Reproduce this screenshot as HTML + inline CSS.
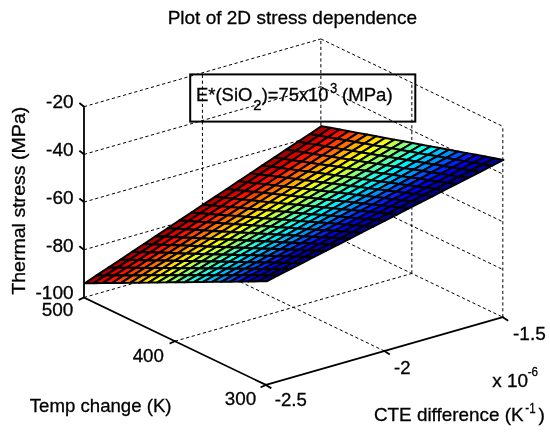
<!DOCTYPE html>
<html><head><meta charset="utf-8"><style>html,body{margin:0;padding:0;background:#fff;width:550px;height:434px;overflow:hidden}</style></head>
<body>
<svg width="550" height="434" viewBox="0 0 550 434" style="position:absolute;left:0;top:0">
<rect width="550" height="434" fill="#fff"/>
<path d="M83.99,297.49 L320.85,229.77 M320.85,229.77 L502.82,317.19 M83.99,249.79 L320.85,182.07 M320.85,182.07 L502.82,269.49 M83.99,202.08 L320.85,134.36 M320.85,134.36 L502.82,221.78 M83.99,154.38 L320.85,86.66 M320.85,86.66 L502.82,174.08 M83.99,106.67 L320.85,38.95 M320.85,38.95 L502.82,126.37 M202.42,263.63 L202.42,72.81 M320.85,229.77 L320.85,38.95 M411.83,273.48 L411.83,82.66 M502.82,317.19 L502.82,126.37 M384.39,351.05 L202.42,263.63 M174.97,341.20 L411.83,273.48" stroke="#000" stroke-width="1.0" stroke-dasharray="3.2 2.6" fill="none"/>
<g stroke="#000" stroke-width="2.0" stroke-linejoin="round">
<path d="M318.81,135.57 L330.65,127.80 L321.55,126.12 L309.71,133.97 Z" fill="#af0000"/>
<path d="M306.96,143.34 L318.81,135.57 L309.71,133.97 L297.86,141.83 Z" fill="#af0000"/>
<path d="M327.90,137.17 L339.75,129.49 L330.65,127.80 L318.81,135.57 Z" fill="#df0000"/>
<path d="M316.06,144.85 L327.90,137.17 L318.81,135.57 L306.96,143.34 Z" fill="#df0000"/>
<path d="M295.12,151.11 L306.96,143.34 L297.86,141.83 L286.02,149.69 Z" fill="#af0000"/>
<path d="M337.00,138.77 L348.85,131.18 L339.75,129.49 L327.90,137.17 Z" fill="#ff1000"/>
<path d="M283.28,158.88 L295.12,151.11 L286.02,149.69 L274.18,157.55 Z" fill="#af0000"/>
<path d="M304.22,152.53 L316.06,144.85 L306.96,143.34 L295.12,151.11 Z" fill="#df0000"/>
<path d="M325.16,146.36 L337.00,138.77 L327.90,137.17 L316.06,144.85 Z" fill="#ff1000"/>
<path d="M346.10,140.37 L357.94,132.87 L348.85,131.18 L337.00,138.77 Z" fill="#ff4000"/>
<path d="M292.37,160.21 L304.22,152.53 L295.12,151.11 L283.28,158.88 Z" fill="#df0000"/>
<path d="M334.26,147.87 L346.10,140.37 L337.00,138.77 L325.16,146.36 Z" fill="#ff4000"/>
<path d="M271.43,166.65 L283.28,158.88 L274.18,157.55 L262.33,165.41 Z" fill="#af0000"/>
<path d="M313.32,153.95 L325.16,146.36 L316.06,144.85 L304.22,152.53 Z" fill="#ff1000"/>
<path d="M355.20,141.96 L367.04,134.55 L357.94,132.87 L346.10,140.37 Z" fill="#ff7000"/>
<path d="M259.59,174.42 L271.43,166.65 L262.33,165.41 L250.49,173.27 Z" fill="#af0000"/>
<path d="M280.53,167.89 L292.37,160.21 L283.28,158.88 L271.43,166.65 Z" fill="#df0000"/>
<path d="M301.47,161.54 L313.32,153.95 L304.22,152.53 L292.37,160.21 Z" fill="#ff1000"/>
<path d="M322.42,155.37 L334.26,147.87 L325.16,146.36 L313.32,153.95 Z" fill="#ff4000"/>
<path d="M343.36,149.38 L355.20,141.96 L346.10,140.37 L334.26,147.87 Z" fill="#ff7000"/>
<path d="M364.30,143.56 L376.14,136.24 L367.04,134.55 L355.20,141.96 Z" fill="#ffaf00"/>
<path d="M247.75,182.19 L259.59,174.42 L250.49,173.27 L238.65,181.12 Z" fill="#af0000"/>
<path d="M268.69,175.57 L280.53,167.89 L271.43,166.65 L259.59,174.42 Z" fill="#df0000"/>
<path d="M289.63,169.13 L301.47,161.54 L292.37,160.21 L280.53,167.89 Z" fill="#ff1000"/>
<path d="M310.57,162.87 L322.42,155.37 L313.32,153.95 L301.47,161.54 Z" fill="#ff4000"/>
<path d="M331.51,156.79 L343.36,149.38 L334.26,147.87 L322.42,155.37 Z" fill="#ff7000"/>
<path d="M352.45,150.88 L364.30,143.56 L355.20,141.96 L343.36,149.38 Z" fill="#ffaf00"/>
<path d="M373.40,145.16 L385.24,137.93 L376.14,136.24 L364.30,143.56 Z" fill="#ffdf00"/>
<path d="M256.85,183.25 L268.69,175.57 L259.59,174.42 L247.75,182.19 Z" fill="#df0000"/>
<path d="M298.73,170.37 L310.57,162.87 L301.47,161.54 L289.63,169.13 Z" fill="#ff4000"/>
<path d="M319.67,164.20 L331.51,156.79 L322.42,155.37 L310.57,162.87 Z" fill="#ff7000"/>
<path d="M361.55,152.39 L373.40,145.16 L364.30,143.56 L352.45,150.88 Z" fill="#ffdf00"/>
<path d="M235.90,189.95 L247.75,182.19 L238.65,181.12 L226.81,188.98 Z" fill="#af0000"/>
<path d="M277.79,176.72 L289.63,169.13 L280.53,167.89 L268.69,175.57 Z" fill="#ff1000"/>
<path d="M340.61,158.21 L352.45,150.88 L343.36,149.38 L331.51,156.79 Z" fill="#ffaf00"/>
<path d="M382.49,146.76 L394.34,139.62 L385.24,137.93 L373.40,145.16 Z" fill="#efff10"/>
<path d="M224.06,197.72 L235.90,189.95 L226.81,188.98 L214.96,196.84 Z" fill="#af0000"/>
<path d="M245.00,190.93 L256.85,183.25 L247.75,182.19 L235.90,189.95 Z" fill="#df0000"/>
<path d="M265.94,184.31 L277.79,176.72 L268.69,175.57 L256.85,183.25 Z" fill="#ff1000"/>
<path d="M286.89,177.87 L298.73,170.37 L289.63,169.13 L277.79,176.72 Z" fill="#ff4000"/>
<path d="M307.83,171.61 L319.67,164.20 L310.57,162.87 L298.73,170.37 Z" fill="#ff7000"/>
<path d="M328.77,165.53 L340.61,158.21 L331.51,156.79 L319.67,164.20 Z" fill="#ffaf00"/>
<path d="M349.71,159.63 L361.55,152.39 L352.45,150.88 L340.61,158.21 Z" fill="#ffdf00"/>
<path d="M370.65,153.90 L382.49,146.76 L373.40,145.16 L361.55,152.39 Z" fill="#efff10"/>
<path d="M391.59,148.36 L403.44,141.30 L394.34,139.62 L382.49,146.76 Z" fill="#bfff40"/>
<path d="M233.16,198.61 L245.00,190.93 L235.90,189.95 L224.06,197.72 Z" fill="#df0000"/>
<path d="M275.04,185.37 L286.89,177.87 L277.79,176.72 L265.94,184.31 Z" fill="#ff4000"/>
<path d="M337.87,166.86 L349.71,159.63 L340.61,158.21 L328.77,165.53 Z" fill="#ffdf00"/>
<path d="M379.75,155.41 L391.59,148.36 L382.49,146.76 L370.65,153.90 Z" fill="#bfff40"/>
<path d="M212.22,205.49 L224.06,197.72 L214.96,196.84 L203.12,204.70 Z" fill="#af0000"/>
<path d="M254.10,191.90 L265.94,184.31 L256.85,183.25 L245.00,190.93 Z" fill="#ff1000"/>
<path d="M295.98,179.02 L307.83,171.61 L298.73,170.37 L286.89,177.87 Z" fill="#ff7000"/>
<path d="M316.93,172.85 L328.77,165.53 L319.67,164.20 L307.83,171.61 Z" fill="#ffaf00"/>
<path d="M358.81,161.04 L370.65,153.90 L361.55,152.39 L349.71,159.63 Z" fill="#efff10"/>
<path d="M400.69,149.96 L412.53,142.99 L403.44,141.30 L391.59,148.36 Z" fill="#8fff70"/>
<path d="M200.38,213.26 L212.22,205.49 L203.12,204.70 L191.28,212.56 Z" fill="#af0000"/>
<path d="M221.32,206.29 L233.16,198.61 L224.06,197.72 L212.22,205.49 Z" fill="#df0000"/>
<path d="M242.26,199.49 L254.10,191.90 L245.00,190.93 L233.16,198.61 Z" fill="#ff1000"/>
<path d="M263.20,192.87 L275.04,185.37 L265.94,184.31 L254.10,191.90 Z" fill="#ff4000"/>
<path d="M284.14,186.43 L295.98,179.02 L286.89,177.87 L275.04,185.37 Z" fill="#ff7000"/>
<path d="M305.08,180.17 L316.93,172.85 L307.83,171.61 L295.98,179.02 Z" fill="#ffaf00"/>
<path d="M326.02,174.09 L337.87,166.86 L328.77,165.53 L316.93,172.85 Z" fill="#ffdf00"/>
<path d="M346.97,168.19 L358.81,161.04 L349.71,159.63 L337.87,166.86 Z" fill="#efff10"/>
<path d="M367.91,162.46 L379.75,155.41 L370.65,153.90 L358.81,161.04 Z" fill="#bfff40"/>
<path d="M388.85,156.92 L400.69,149.96 L391.59,148.36 L379.75,155.41 Z" fill="#8fff70"/>
<path d="M409.79,151.55 L421.63,144.68 L412.53,142.99 L400.69,149.96 Z" fill="#50ffaf"/>
<path d="M188.53,221.03 L200.38,213.26 L191.28,212.56 L179.43,220.42 Z" fill="#af0000"/>
<path d="M209.47,213.96 L221.32,206.29 L212.22,205.49 L200.38,213.26 Z" fill="#df0000"/>
<path d="M230.42,207.08 L242.26,199.49 L233.16,198.61 L221.32,206.29 Z" fill="#ff1000"/>
<path d="M251.36,200.37 L263.20,192.87 L254.10,191.90 L242.26,199.49 Z" fill="#ff4000"/>
<path d="M272.30,193.84 L284.14,186.43 L275.04,185.37 L263.20,192.87 Z" fill="#ff7000"/>
<path d="M293.24,187.49 L305.08,180.17 L295.98,179.02 L284.14,186.43 Z" fill="#ffaf00"/>
<path d="M314.18,181.32 L326.02,174.09 L316.93,172.85 L305.08,180.17 Z" fill="#ffdf00"/>
<path d="M335.12,175.33 L346.97,168.19 L337.87,166.86 L326.02,174.09 Z" fill="#efff10"/>
<path d="M356.06,169.52 L367.91,162.46 L358.81,161.04 L346.97,168.19 Z" fill="#bfff40"/>
<path d="M377.01,163.88 L388.85,156.92 L379.75,155.41 L367.91,162.46 Z" fill="#8fff70"/>
<path d="M397.95,158.43 L409.79,151.55 L400.69,149.96 L388.85,156.92 Z" fill="#50ffaf"/>
<path d="M418.89,153.15 L430.73,146.37 L421.63,144.68 L409.79,151.55 Z" fill="#20ffdf"/>
<path d="M197.63,221.64 L209.47,213.96 L200.38,213.26 L188.53,221.03 Z" fill="#df0000"/>
<path d="M218.57,214.67 L230.42,207.08 L221.32,206.29 L209.47,213.96 Z" fill="#ff1000"/>
<path d="M239.51,207.87 L251.36,200.37 L242.26,199.49 L230.42,207.08 Z" fill="#ff4000"/>
<path d="M260.46,201.25 L272.30,193.84 L263.20,192.87 L251.36,200.37 Z" fill="#ff7000"/>
<path d="M302.34,188.55 L314.18,181.32 L305.08,180.17 L293.24,187.49 Z" fill="#ffdf00"/>
<path d="M344.22,176.57 L356.06,169.52 L346.97,168.19 L335.12,175.33 Z" fill="#bfff40"/>
<path d="M365.16,170.85 L377.01,163.88 L367.91,162.46 L356.06,169.52 Z" fill="#8fff70"/>
<path d="M386.10,165.30 L397.95,158.43 L388.85,156.92 L377.01,163.88 Z" fill="#50ffaf"/>
<path d="M407.05,159.94 L418.89,153.15 L409.79,151.55 L397.95,158.43 Z" fill="#20ffdf"/>
<path d="M176.69,228.80 L188.53,221.03 L179.43,220.42 L167.59,228.27 Z" fill="#af0000"/>
<path d="M281.40,194.81 L293.24,187.49 L284.14,186.43 L272.30,193.84 Z" fill="#ffaf00"/>
<path d="M323.28,182.47 L335.12,175.33 L326.02,174.09 L314.18,181.32 Z" fill="#efff10"/>
<path d="M427.99,154.75 L439.83,148.05 L430.73,146.37 L418.89,153.15 Z" fill="#00efff"/>
<path d="M164.85,236.57 L176.69,228.80 L167.59,228.27 L155.75,236.13 Z" fill="#af0000"/>
<path d="M185.79,229.32 L197.63,221.64 L188.53,221.03 L176.69,228.80 Z" fill="#df0000"/>
<path d="M206.73,222.26 L218.57,214.67 L209.47,213.96 L197.63,221.64 Z" fill="#ff1000"/>
<path d="M227.67,215.37 L239.51,207.87 L230.42,207.08 L218.57,214.67 Z" fill="#ff4000"/>
<path d="M248.61,208.66 L260.46,201.25 L251.36,200.37 L239.51,207.87 Z" fill="#ff7000"/>
<path d="M269.55,202.14 L281.40,194.81 L272.30,193.84 L260.46,201.25 Z" fill="#ffaf00"/>
<path d="M290.50,195.79 L302.34,188.55 L293.24,187.49 L281.40,194.81 Z" fill="#ffdf00"/>
<path d="M311.44,189.62 L323.28,182.47 L314.18,181.32 L302.34,188.55 Z" fill="#efff10"/>
<path d="M332.38,183.62 L344.22,176.57 L335.12,175.33 L323.28,182.47 Z" fill="#bfff40"/>
<path d="M353.32,177.81 L365.16,170.85 L356.06,169.52 L344.22,176.57 Z" fill="#8fff70"/>
<path d="M374.26,172.18 L386.10,165.30 L377.01,163.88 L365.16,170.85 Z" fill="#50ffaf"/>
<path d="M395.20,166.72 L407.05,159.94 L397.95,158.43 L386.10,165.30 Z" fill="#20ffdf"/>
<path d="M416.14,161.45 L427.99,154.75 L418.89,153.15 L407.05,159.94 Z" fill="#00efff"/>
<path d="M437.09,156.35 L448.93,149.74 L439.83,148.05 L427.99,154.75 Z" fill="#00bfff"/>
<path d="M215.83,222.87 L227.67,215.37 L218.57,214.67 L206.73,222.26 Z" fill="#ff4000"/>
<path d="M278.65,203.02 L290.50,195.79 L281.40,194.81 L269.55,202.14 Z" fill="#ffdf00"/>
<path d="M320.54,190.68 L332.38,183.62 L323.28,182.47 L311.44,189.62 Z" fill="#bfff40"/>
<path d="M383.36,173.51 L395.20,166.72 L386.10,165.30 L374.26,172.18 Z" fill="#20ffdf"/>
<path d="M153.00,244.34 L164.85,236.57 L155.75,236.13 L143.90,243.99 Z" fill="#af0000"/>
<path d="M173.94,237.00 L185.79,229.32 L176.69,228.80 L164.85,236.57 Z" fill="#df0000"/>
<path d="M194.89,229.85 L206.73,222.26 L197.63,221.64 L185.79,229.32 Z" fill="#ff1000"/>
<path d="M236.77,216.08 L248.61,208.66 L239.51,207.87 L227.67,215.37 Z" fill="#ff7000"/>
<path d="M257.71,209.46 L269.55,202.14 L260.46,201.25 L248.61,208.66 Z" fill="#ffaf00"/>
<path d="M299.59,196.76 L311.44,189.62 L302.34,188.55 L290.50,195.79 Z" fill="#efff10"/>
<path d="M341.48,184.77 L353.32,177.81 L344.22,176.57 L332.38,183.62 Z" fill="#8fff70"/>
<path d="M362.42,179.05 L374.26,172.18 L365.16,170.85 L353.32,177.81 Z" fill="#50ffaf"/>
<path d="M404.30,168.14 L416.14,161.45 L407.05,159.94 L395.20,166.72 Z" fill="#00efff"/>
<path d="M425.24,162.95 L437.09,156.35 L427.99,154.75 L416.14,161.45 Z" fill="#00bfff"/>
<path d="M446.18,157.95 L458.03,151.43 L448.93,149.74 L437.09,156.35 Z" fill="#008fff"/>
<path d="M141.16,252.11 L153.00,244.34 L143.90,243.99 L132.06,251.85 Z" fill="#af0000"/>
<path d="M162.10,244.68 L173.94,237.00 L164.85,236.57 L153.00,244.34 Z" fill="#df0000"/>
<path d="M183.04,237.44 L194.89,229.85 L185.79,229.32 L173.94,237.00 Z" fill="#ff1000"/>
<path d="M203.98,230.37 L215.83,222.87 L206.73,222.26 L194.89,229.85 Z" fill="#ff4000"/>
<path d="M224.93,223.49 L236.77,216.08 L227.67,215.37 L215.83,222.87 Z" fill="#ff7000"/>
<path d="M245.87,216.78 L257.71,209.46 L248.61,208.66 L236.77,216.08 Z" fill="#ffaf00"/>
<path d="M266.81,210.25 L278.65,203.02 L269.55,202.14 L257.71,209.46 Z" fill="#ffdf00"/>
<path d="M287.75,203.90 L299.59,196.76 L290.50,195.79 L278.65,203.02 Z" fill="#efff10"/>
<path d="M308.69,197.73 L320.54,190.68 L311.44,189.62 L299.59,196.76 Z" fill="#bfff40"/>
<path d="M329.63,191.74 L341.48,184.77 L332.38,183.62 L320.54,190.68 Z" fill="#8fff70"/>
<path d="M350.58,185.93 L362.42,179.05 L353.32,177.81 L341.48,184.77 Z" fill="#50ffaf"/>
<path d="M371.52,180.29 L383.36,173.51 L374.26,172.18 L362.42,179.05 Z" fill="#20ffdf"/>
<path d="M392.46,174.84 L404.30,168.14 L395.20,166.72 L383.36,173.51 Z" fill="#00efff"/>
<path d="M413.40,169.56 L425.24,162.95 L416.14,161.45 L404.30,168.14 Z" fill="#00bfff"/>
<path d="M434.34,164.46 L446.18,157.95 L437.09,156.35 L425.24,162.95 Z" fill="#008fff"/>
<path d="M455.28,159.54 L467.13,153.12 L458.03,151.43 L446.18,157.95 Z" fill="#0050ff"/>
<path d="M150.26,252.36 L162.10,244.68 L153.00,244.34 L141.16,252.11 Z" fill="#df0000"/>
<path d="M171.20,245.03 L183.04,237.44 L173.94,237.00 L162.10,244.68 Z" fill="#ff1000"/>
<path d="M192.14,237.87 L203.98,230.37 L194.89,229.85 L183.04,237.44 Z" fill="#ff4000"/>
<path d="M213.08,230.90 L224.93,223.49 L215.83,222.87 L203.98,230.37 Z" fill="#ff7000"/>
<path d="M234.03,224.10 L245.87,216.78 L236.77,216.08 L224.93,223.49 Z" fill="#ffaf00"/>
<path d="M254.97,217.48 L266.81,210.25 L257.71,209.46 L245.87,216.78 Z" fill="#ffdf00"/>
<path d="M275.91,211.04 L287.75,203.90 L278.65,203.02 L266.81,210.25 Z" fill="#efff10"/>
<path d="M296.85,204.78 L308.69,197.73 L299.59,196.76 L287.75,203.90 Z" fill="#bfff40"/>
<path d="M317.79,198.70 L329.63,191.74 L320.54,190.68 L308.69,197.73 Z" fill="#8fff70"/>
<path d="M338.73,192.80 L350.58,185.93 L341.48,184.77 L329.63,191.74 Z" fill="#50ffaf"/>
<path d="M359.67,187.08 L371.52,180.29 L362.42,179.05 L350.58,185.93 Z" fill="#20ffdf"/>
<path d="M380.62,181.53 L392.46,174.84 L383.36,173.51 L371.52,180.29 Z" fill="#00efff"/>
<path d="M401.56,176.17 L413.40,169.56 L404.30,168.14 L392.46,174.84 Z" fill="#00bfff"/>
<path d="M422.50,170.98 L434.34,164.46 L425.24,162.95 L413.40,169.56 Z" fill="#008fff"/>
<path d="M443.44,165.97 L455.28,159.54 L446.18,157.95 L434.34,164.46 Z" fill="#0050ff"/>
<path d="M129.32,259.87 L141.16,252.11 L132.06,251.85 L120.22,259.71 Z" fill="#af0000"/>
<path d="M464.38,161.14 L476.22,154.80 L467.13,153.12 L455.28,159.54 Z" fill="#0020ff"/>
<path d="M117.47,267.64 L129.32,259.87 L120.22,259.71 L108.38,267.57 Z" fill="#af0000"/>
<path d="M138.42,260.04 L150.26,252.36 L141.16,252.11 L129.32,259.87 Z" fill="#df0000"/>
<path d="M159.36,252.62 L171.20,245.03 L162.10,244.68 L150.26,252.36 Z" fill="#ff1000"/>
<path d="M180.30,245.37 L192.14,237.87 L183.04,237.44 L171.20,245.03 Z" fill="#ff4000"/>
<path d="M201.24,238.31 L213.08,230.90 L203.98,230.37 L192.14,237.87 Z" fill="#ff7000"/>
<path d="M243.12,224.72 L254.97,217.48 L245.87,216.78 L234.03,224.10 Z" fill="#ffdf00"/>
<path d="M264.06,218.19 L275.91,211.04 L266.81,210.25 L254.97,217.48 Z" fill="#efff10"/>
<path d="M285.01,211.84 L296.85,204.78 L287.75,203.90 L275.91,211.04 Z" fill="#bfff40"/>
<path d="M305.95,205.67 L317.79,198.70 L308.69,197.73 L296.85,204.78 Z" fill="#8fff70"/>
<path d="M326.89,199.67 L338.73,192.80 L329.63,191.74 L317.79,198.70 Z" fill="#50ffaf"/>
<path d="M347.83,193.86 L359.67,187.08 L350.58,185.93 L338.73,192.80 Z" fill="#20ffdf"/>
<path d="M389.71,182.77 L401.56,176.17 L392.46,174.84 L380.62,181.53 Z" fill="#00bfff"/>
<path d="M410.66,177.50 L422.50,170.98 L413.40,169.56 L401.56,176.17 Z" fill="#008fff"/>
<path d="M431.60,172.40 L443.44,165.97 L434.34,164.46 L422.50,170.98 Z" fill="#0050ff"/>
<path d="M452.54,167.48 L464.38,161.14 L455.28,159.54 L443.44,165.97 Z" fill="#0020ff"/>
<path d="M473.48,162.74 L485.32,156.49 L476.22,154.80 L464.38,161.14 Z" fill="#0000ef"/>
<path d="M222.18,231.42 L234.03,224.10 L224.93,223.49 L213.08,230.90 Z" fill="#ffaf00"/>
<path d="M368.77,188.23 L380.62,181.53 L371.52,180.29 L359.67,187.08 Z" fill="#00efff"/>
<path d="M105.63,275.41 L117.47,267.64 L108.38,267.57 L96.53,275.42 Z" fill="#af0000"/>
<path d="M126.57,267.72 L138.42,260.04 L129.32,259.87 L117.47,267.64 Z" fill="#df0000"/>
<path d="M147.51,260.21 L159.36,252.62 L150.26,252.36 L138.42,260.04 Z" fill="#ff1000"/>
<path d="M168.46,252.87 L180.30,245.37 L171.20,245.03 L159.36,252.62 Z" fill="#ff4000"/>
<path d="M189.40,245.72 L201.24,238.31 L192.14,237.87 L180.30,245.37 Z" fill="#ff7000"/>
<path d="M210.34,238.74 L222.18,231.42 L213.08,230.90 L201.24,238.31 Z" fill="#ffaf00"/>
<path d="M231.28,231.95 L243.12,224.72 L234.03,224.10 L222.18,231.42 Z" fill="#ffdf00"/>
<path d="M252.22,225.33 L264.06,218.19 L254.97,217.48 L243.12,224.72 Z" fill="#efff10"/>
<path d="M273.16,218.89 L285.01,211.84 L275.91,211.04 L264.06,218.19 Z" fill="#bfff40"/>
<path d="M294.10,212.63 L305.95,205.67 L296.85,204.78 L285.01,211.84 Z" fill="#8fff70"/>
<path d="M315.05,206.55 L326.89,199.67 L317.79,198.70 L305.95,205.67 Z" fill="#50ffaf"/>
<path d="M335.99,200.65 L347.83,193.86 L338.73,192.80 L326.89,199.67 Z" fill="#20ffdf"/>
<path d="M356.93,194.92 L368.77,188.23 L359.67,187.08 L347.83,193.86 Z" fill="#00efff"/>
<path d="M377.87,189.38 L389.71,182.77 L380.62,181.53 L368.77,188.23 Z" fill="#00bfff"/>
<path d="M398.81,184.01 L410.66,177.50 L401.56,176.17 L389.71,182.77 Z" fill="#008fff"/>
<path d="M419.75,178.83 L431.60,172.40 L422.50,170.98 L410.66,177.50 Z" fill="#0050ff"/>
<path d="M440.70,173.82 L452.54,167.48 L443.44,165.97 L431.60,172.40 Z" fill="#0020ff"/>
<path d="M461.64,168.99 L473.48,162.74 L464.38,161.14 L452.54,167.48 Z" fill="#0000ef"/>
<path d="M482.58,164.34 L494.42,158.18 L485.32,156.49 L473.48,162.74 Z" fill="#0000bf"/>
<path d="M114.73,275.40 L126.57,267.72 L117.47,267.64 L105.63,275.41 Z" fill="#df0000"/>
<path d="M156.61,260.38 L168.46,252.87 L159.36,252.62 L147.51,260.21 Z" fill="#ff4000"/>
<path d="M261.32,225.94 L273.16,218.89 L264.06,218.19 L252.22,225.33 Z" fill="#bfff40"/>
<path d="M324.14,207.43 L335.99,200.65 L326.89,199.67 L315.05,206.55 Z" fill="#20ffdf"/>
<path d="M428.85,180.16 L440.70,173.82 L431.60,172.40 L419.75,178.83 Z" fill="#0020ff"/>
<path d="M470.74,170.50 L482.58,164.34 L473.48,162.74 L461.64,168.99 Z" fill="#0000bf"/>
<path d="M93.79,283.18 L105.63,275.41 L96.53,275.42 L84.69,283.28 Z" fill="#af0000"/>
<path d="M135.67,267.80 L147.51,260.21 L138.42,260.04 L126.57,267.72 Z" fill="#ff1000"/>
<path d="M177.55,253.13 L189.40,245.72 L180.30,245.37 L168.46,252.87 Z" fill="#ff7000"/>
<path d="M198.50,246.07 L210.34,238.74 L201.24,238.31 L189.40,245.72 Z" fill="#ffaf00"/>
<path d="M219.44,239.18 L231.28,231.95 L222.18,231.42 L210.34,238.74 Z" fill="#ffdf00"/>
<path d="M240.38,232.47 L252.22,225.33 L243.12,224.72 L231.28,231.95 Z" fill="#efff10"/>
<path d="M282.26,219.59 L294.10,212.63 L285.01,211.84 L273.16,218.89 Z" fill="#8fff70"/>
<path d="M303.20,213.42 L315.05,206.55 L305.95,205.67 L294.10,212.63 Z" fill="#50ffaf"/>
<path d="M345.09,201.62 L356.93,194.92 L347.83,193.86 L335.99,200.65 Z" fill="#00efff"/>
<path d="M366.03,195.98 L377.87,189.38 L368.77,188.23 L356.93,194.92 Z" fill="#00bfff"/>
<path d="M386.97,190.53 L398.81,184.01 L389.71,182.77 L377.87,189.38 Z" fill="#008fff"/>
<path d="M407.91,185.25 L419.75,178.83 L410.66,177.50 L398.81,184.01 Z" fill="#0050ff"/>
<path d="M449.79,175.24 L461.64,168.99 L452.54,167.48 L440.70,173.82 Z" fill="#0000ef"/>
<path d="M491.68,165.94 L503.52,159.87 L494.42,158.18 L482.58,164.34 Z" fill="#00008f"/>
<path d="M102.89,283.08 L114.73,275.40 L105.63,275.41 L93.79,283.18 Z" fill="#df0000"/>
<path d="M123.83,275.39 L135.67,267.80 L126.57,267.72 L114.73,275.40 Z" fill="#ff1000"/>
<path d="M144.77,267.88 L156.61,260.38 L147.51,260.21 L135.67,267.80 Z" fill="#ff4000"/>
<path d="M165.71,260.54 L177.55,253.13 L168.46,252.87 L156.61,260.38 Z" fill="#ff7000"/>
<path d="M207.59,246.41 L219.44,239.18 L210.34,238.74 L198.50,246.07 Z" fill="#ffdf00"/>
<path d="M249.48,233.00 L261.32,225.94 L252.22,225.33 L240.38,232.47 Z" fill="#bfff40"/>
<path d="M270.42,226.56 L282.26,219.59 L273.16,218.89 L261.32,225.94 Z" fill="#8fff70"/>
<path d="M291.36,220.30 L303.20,213.42 L294.10,212.63 L282.26,219.59 Z" fill="#50ffaf"/>
<path d="M312.30,214.22 L324.14,207.43 L315.05,206.55 L303.20,213.42 Z" fill="#20ffdf"/>
<path d="M333.24,208.31 L345.09,201.62 L335.99,200.65 L324.14,207.43 Z" fill="#00efff"/>
<path d="M375.13,197.05 L386.97,190.53 L377.87,189.38 L366.03,195.98 Z" fill="#008fff"/>
<path d="M417.01,186.49 L428.85,180.16 L419.75,178.83 L407.91,185.25 Z" fill="#0020ff"/>
<path d="M437.95,181.49 L449.79,175.24 L440.70,173.82 L428.85,180.16 Z" fill="#0000ef"/>
<path d="M458.89,176.66 L470.74,170.50 L461.64,168.99 L449.79,175.24 Z" fill="#0000bf"/>
<path d="M479.83,172.01 L491.68,165.94 L482.58,164.34 L470.74,170.50 Z" fill="#00008f"/>
<path d="M186.65,253.39 L198.50,246.07 L189.40,245.72 L177.55,253.13 Z" fill="#ffaf00"/>
<path d="M228.54,239.61 L240.38,232.47 L231.28,231.95 L219.44,239.18 Z" fill="#efff10"/>
<path d="M354.19,202.59 L366.03,195.98 L356.93,194.92 L345.09,201.62 Z" fill="#00bfff"/>
<path d="M396.07,191.68 L407.91,185.25 L398.81,184.01 L386.97,190.53 Z" fill="#0050ff"/>
<path d="M132.93,275.38 L144.77,267.88 L135.67,267.80 L123.83,275.39 Z" fill="#ff4000"/>
<path d="M195.75,253.64 L207.59,246.41 L198.50,246.07 L186.65,253.39 Z" fill="#ffdf00"/>
<path d="M237.63,240.05 L249.48,233.00 L240.38,232.47 L228.54,239.61 Z" fill="#bfff40"/>
<path d="M279.52,227.17 L291.36,220.30 L282.26,219.59 L270.42,226.56 Z" fill="#50ffaf"/>
<path d="M300.46,221.00 L312.30,214.22 L303.20,213.42 L291.36,220.30 Z" fill="#20ffdf"/>
<path d="M342.34,209.20 L354.19,202.59 L345.09,201.62 L333.24,208.31 Z" fill="#00bfff"/>
<path d="M384.22,198.11 L396.07,191.68 L386.97,190.53 L375.13,197.05 Z" fill="#0050ff"/>
<path d="M447.05,182.82 L458.89,176.66 L449.79,175.24 L437.95,181.49 Z" fill="#0000bf"/>
<path d="M111.99,282.98 L123.83,275.39 L114.73,275.40 L102.89,283.08 Z" fill="#ff1000"/>
<path d="M153.87,267.95 L165.71,260.54 L156.61,260.38 L144.77,267.88 Z" fill="#ff7000"/>
<path d="M174.81,260.71 L186.65,253.39 L177.55,253.13 L165.71,260.54 Z" fill="#ffaf00"/>
<path d="M216.69,246.76 L228.54,239.61 L219.44,239.18 L207.59,246.41 Z" fill="#efff10"/>
<path d="M258.58,233.52 L270.42,226.56 L261.32,225.94 L249.48,233.00 Z" fill="#8fff70"/>
<path d="M321.40,215.01 L333.24,208.31 L324.14,207.43 L312.30,214.22 Z" fill="#00efff"/>
<path d="M363.28,203.56 L375.13,197.05 L366.03,195.98 L354.19,202.59 Z" fill="#008fff"/>
<path d="M405.17,192.83 L417.01,186.49 L407.91,185.25 L396.07,191.68 Z" fill="#0020ff"/>
<path d="M426.11,187.73 L437.95,181.49 L428.85,180.16 L417.01,186.49 Z" fill="#0000ef"/>
<path d="M467.99,178.08 L479.83,172.01 L470.74,170.50 L458.89,176.66 Z" fill="#00008f"/>
<path d="M121.08,282.88 L132.93,275.38 L123.83,275.39 L111.99,282.98 Z" fill="#ff4000"/>
<path d="M142.03,275.36 L153.87,267.95 L144.77,267.88 L132.93,275.38 Z" fill="#ff7000"/>
<path d="M183.91,260.88 L195.75,253.64 L186.65,253.39 L174.81,260.71 Z" fill="#ffdf00"/>
<path d="M204.85,253.90 L216.69,246.76 L207.59,246.41 L195.75,253.64 Z" fill="#efff10"/>
<path d="M225.79,247.10 L237.63,240.05 L228.54,239.61 L216.69,246.76 Z" fill="#bfff40"/>
<path d="M246.73,240.49 L258.58,233.52 L249.48,233.00 L237.63,240.05 Z" fill="#8fff70"/>
<path d="M267.67,234.05 L279.52,227.17 L270.42,226.56 L258.58,233.52 Z" fill="#50ffaf"/>
<path d="M288.62,227.79 L300.46,221.00 L291.36,220.30 L279.52,227.17 Z" fill="#20ffdf"/>
<path d="M309.56,221.70 L321.40,215.01 L312.30,214.22 L300.46,221.00 Z" fill="#00efff"/>
<path d="M330.50,215.80 L342.34,209.20 L333.24,208.31 L321.40,215.01 Z" fill="#00bfff"/>
<path d="M351.44,210.08 L363.28,203.56 L354.19,202.59 L342.34,209.20 Z" fill="#008fff"/>
<path d="M372.38,204.53 L384.22,198.11 L375.13,197.05 L363.28,203.56 Z" fill="#0050ff"/>
<path d="M393.32,199.17 L405.17,192.83 L396.07,191.68 L384.22,198.11 Z" fill="#0020ff"/>
<path d="M435.21,188.97 L447.05,182.82 L437.95,181.49 L426.11,187.73 Z" fill="#0000bf"/>
<path d="M456.15,184.14 L467.99,178.08 L458.89,176.66 L447.05,182.82 Z" fill="#00008f"/>
<path d="M162.97,268.03 L174.81,260.71 L165.71,260.54 L153.87,267.95 Z" fill="#ffaf00"/>
<path d="M414.26,193.98 L426.11,187.73 L417.01,186.49 L405.17,192.83 Z" fill="#0000ef"/>
<path d="M130.18,282.78 L142.03,275.36 L132.93,275.38 L121.08,282.88 Z" fill="#ff7000"/>
<path d="M151.12,275.35 L162.97,268.03 L153.87,267.95 L142.03,275.36 Z" fill="#ffaf00"/>
<path d="M172.07,268.11 L183.91,260.88 L174.81,260.71 L162.97,268.03 Z" fill="#ffdf00"/>
<path d="M193.01,261.04 L204.85,253.90 L195.75,253.64 L183.91,260.88 Z" fill="#efff10"/>
<path d="M213.95,254.16 L225.79,247.10 L216.69,246.76 L204.85,253.90 Z" fill="#bfff40"/>
<path d="M234.89,247.45 L246.73,240.49 L237.63,240.05 L225.79,247.10 Z" fill="#8fff70"/>
<path d="M255.83,240.92 L267.67,234.05 L258.58,233.52 L246.73,240.49 Z" fill="#50ffaf"/>
<path d="M276.77,234.57 L288.62,227.79 L279.52,227.17 L267.67,234.05 Z" fill="#20ffdf"/>
<path d="M297.71,228.40 L309.56,221.70 L300.46,221.00 L288.62,227.79 Z" fill="#00efff"/>
<path d="M318.66,222.41 L330.50,215.80 L321.40,215.01 L309.56,221.70 Z" fill="#00bfff"/>
<path d="M339.60,216.60 L351.44,210.08 L342.34,209.20 L330.50,215.80 Z" fill="#008fff"/>
<path d="M360.54,210.96 L372.38,204.53 L363.28,203.56 L351.44,210.08 Z" fill="#0050ff"/>
<path d="M381.48,205.51 L393.32,199.17 L384.22,198.11 L372.38,204.53 Z" fill="#0020ff"/>
<path d="M402.42,200.23 L414.26,193.98 L405.17,192.83 L393.32,199.17 Z" fill="#0000ef"/>
<path d="M423.36,195.13 L435.21,188.97 L426.11,187.73 L414.26,193.98 Z" fill="#0000bf"/>
<path d="M444.31,190.21 L456.15,184.14 L447.05,182.82 L435.21,188.97 Z" fill="#00008f"/>
<path d="M160.22,275.34 L172.07,268.11 L162.97,268.03 L151.12,275.35 Z" fill="#ffdf00"/>
<path d="M202.11,261.21 L213.95,254.16 L204.85,253.90 L193.01,261.04 Z" fill="#bfff40"/>
<path d="M369.64,211.84 L381.48,205.51 L372.38,204.53 L360.54,210.96 Z" fill="#0020ff"/>
<path d="M411.52,201.29 L423.36,195.13 L414.26,193.98 L402.42,200.23 Z" fill="#0000bf"/>
<path d="M139.28,282.67 L151.12,275.35 L142.03,275.36 L130.18,282.78 Z" fill="#ffaf00"/>
<path d="M181.16,268.19 L193.01,261.04 L183.91,260.88 L172.07,268.11 Z" fill="#efff10"/>
<path d="M223.05,254.41 L234.89,247.45 L225.79,247.10 L213.95,254.16 Z" fill="#8fff70"/>
<path d="M243.99,247.80 L255.83,240.92 L246.73,240.49 L234.89,247.45 Z" fill="#50ffaf"/>
<path d="M264.93,241.36 L276.77,234.57 L267.67,234.05 L255.83,240.92 Z" fill="#20ffdf"/>
<path d="M285.87,235.10 L297.71,228.40 L288.62,227.79 L276.77,234.57 Z" fill="#00efff"/>
<path d="M306.81,229.01 L318.66,222.41 L309.56,221.70 L297.71,228.40 Z" fill="#00bfff"/>
<path d="M327.75,223.11 L339.60,216.60 L330.50,215.80 L318.66,222.41 Z" fill="#008fff"/>
<path d="M348.70,217.39 L360.54,210.96 L351.44,210.08 L339.60,216.60 Z" fill="#0050ff"/>
<path d="M390.58,206.48 L402.42,200.23 L393.32,199.17 L381.48,205.51 Z" fill="#0000ef"/>
<path d="M432.46,196.28 L444.31,190.21 L435.21,188.97 L423.36,195.13 Z" fill="#00008f"/>
<path d="M148.38,282.57 L160.22,275.34 L151.12,275.35 L139.28,282.67 Z" fill="#ffdf00"/>
<path d="M169.32,275.33 L181.16,268.19 L172.07,268.11 L160.22,275.34 Z" fill="#efff10"/>
<path d="M190.26,268.26 L202.11,261.21 L193.01,261.04 L181.16,268.19 Z" fill="#bfff40"/>
<path d="M211.20,261.38 L223.05,254.41 L213.95,254.16 L202.11,261.21 Z" fill="#8fff70"/>
<path d="M232.15,254.67 L243.99,247.80 L234.89,247.45 L223.05,254.41 Z" fill="#50ffaf"/>
<path d="M253.09,248.14 L264.93,241.36 L255.83,240.92 L243.99,247.80 Z" fill="#20ffdf"/>
<path d="M315.91,229.63 L327.75,223.11 L318.66,222.41 L306.81,229.01 Z" fill="#008fff"/>
<path d="M336.85,223.82 L348.70,217.39 L339.60,216.60 L327.75,223.11 Z" fill="#0050ff"/>
<path d="M357.79,218.18 L369.64,211.84 L360.54,210.96 L348.70,217.39 Z" fill="#0020ff"/>
<path d="M378.74,212.73 L390.58,206.48 L381.48,205.51 L369.64,211.84 Z" fill="#0000ef"/>
<path d="M399.68,207.45 L411.52,201.29 L402.42,200.23 L390.58,206.48 Z" fill="#0000bf"/>
<path d="M420.62,202.35 L432.46,196.28 L423.36,195.13 L411.52,201.29 Z" fill="#00008f"/>
<path d="M274.03,241.79 L285.87,235.10 L276.77,234.57 L264.93,241.36 Z" fill="#00efff"/>
<path d="M294.97,235.62 L306.81,229.01 L297.71,228.40 L285.87,235.10 Z" fill="#00bfff"/>
<path d="M178.42,275.32 L190.26,268.26 L181.16,268.19 L169.32,275.33 Z" fill="#bfff40"/>
<path d="M241.24,254.93 L253.09,248.14 L243.99,247.80 L232.15,254.67 Z" fill="#20ffdf"/>
<path d="M325.01,230.24 L336.85,223.82 L327.75,223.11 L315.91,229.63 Z" fill="#0050ff"/>
<path d="M387.83,213.61 L399.68,207.45 L390.58,206.48 L378.74,212.73 Z" fill="#0000bf"/>
<path d="M157.48,282.47 L169.32,275.33 L160.22,275.34 L148.38,282.57 Z" fill="#efff10"/>
<path d="M199.36,268.34 L211.20,261.38 L202.11,261.21 L190.26,268.26 Z" fill="#8fff70"/>
<path d="M220.30,261.54 L232.15,254.67 L223.05,254.41 L211.20,261.38 Z" fill="#50ffaf"/>
<path d="M262.19,248.49 L274.03,241.79 L264.93,241.36 L253.09,248.14 Z" fill="#00efff"/>
<path d="M283.13,242.23 L294.97,235.62 L285.87,235.10 L274.03,241.79 Z" fill="#00bfff"/>
<path d="M304.07,236.15 L315.91,229.63 L306.81,229.01 L294.97,235.62 Z" fill="#008fff"/>
<path d="M345.95,224.52 L357.79,218.18 L348.70,217.39 L336.85,223.82 Z" fill="#0020ff"/>
<path d="M366.89,218.98 L378.74,212.73 L369.64,211.84 L357.79,218.18 Z" fill="#0000ef"/>
<path d="M408.78,208.42 L420.62,202.35 L411.52,201.29 L399.68,207.45 Z" fill="#00008f"/>
<path d="M166.58,282.37 L178.42,275.32 L169.32,275.33 L157.48,282.47 Z" fill="#bfff40"/>
<path d="M187.52,275.30 L199.36,268.34 L190.26,268.26 L178.42,275.32 Z" fill="#8fff70"/>
<path d="M208.46,268.42 L220.30,261.54 L211.20,261.38 L199.36,268.34 Z" fill="#50ffaf"/>
<path d="M229.40,261.71 L241.24,254.93 L232.15,254.67 L220.30,261.54 Z" fill="#20ffdf"/>
<path d="M250.34,255.18 L262.19,248.49 L253.09,248.14 L241.24,254.93 Z" fill="#00efff"/>
<path d="M271.28,248.83 L283.13,242.23 L274.03,241.79 L262.19,248.49 Z" fill="#00bfff"/>
<path d="M292.23,242.66 L304.07,236.15 L294.97,235.62 L283.13,242.23 Z" fill="#008fff"/>
<path d="M313.17,236.67 L325.01,230.24 L315.91,229.63 L304.07,236.15 Z" fill="#0050ff"/>
<path d="M334.11,230.86 L345.95,224.52 L336.85,223.82 L325.01,230.24 Z" fill="#0020ff"/>
<path d="M355.05,225.22 L366.89,218.98 L357.79,218.18 L345.95,224.52 Z" fill="#0000ef"/>
<path d="M375.99,219.77 L387.83,213.61 L378.74,212.73 L366.89,218.98 Z" fill="#0000bf"/>
<path d="M396.93,214.49 L408.78,208.42 L399.68,207.45 L387.83,213.61 Z" fill="#00008f"/>
<path d="M175.67,282.27 L187.52,275.30 L178.42,275.32 L166.58,282.37 Z" fill="#8fff70"/>
<path d="M196.62,275.29 L208.46,268.42 L199.36,268.34 L187.52,275.30 Z" fill="#50ffaf"/>
<path d="M217.56,268.50 L229.40,261.71 L220.30,261.54 L208.46,268.42 Z" fill="#20ffdf"/>
<path d="M238.50,261.88 L250.34,255.18 L241.24,254.93 L229.40,261.71 Z" fill="#00efff"/>
<path d="M259.44,255.44 L271.28,248.83 L262.19,248.49 L250.34,255.18 Z" fill="#00bfff"/>
<path d="M280.38,249.18 L292.23,242.66 L283.13,242.23 L271.28,248.83 Z" fill="#008fff"/>
<path d="M301.32,243.10 L313.17,236.67 L304.07,236.15 L292.23,242.66 Z" fill="#0050ff"/>
<path d="M322.27,237.20 L334.11,230.86 L325.01,230.24 L313.17,236.67 Z" fill="#0020ff"/>
<path d="M343.21,231.47 L355.05,225.22 L345.95,224.52 L334.11,230.86 Z" fill="#0000ef"/>
<path d="M364.15,225.93 L375.99,219.77 L366.89,218.98 L355.05,225.22 Z" fill="#0000bf"/>
<path d="M385.09,220.56 L396.93,214.49 L387.83,213.61 L375.99,219.77 Z" fill="#00008f"/>
<path d="M184.77,282.17 L196.62,275.29 L187.52,275.30 L175.67,282.27 Z" fill="#50ffaf"/>
<path d="M205.71,275.28 L217.56,268.50 L208.46,268.42 L196.62,275.29 Z" fill="#20ffdf"/>
<path d="M268.54,255.70 L280.38,249.18 L271.28,248.83 L259.44,255.44 Z" fill="#008fff"/>
<path d="M289.48,249.52 L301.32,243.10 L292.23,242.66 L280.38,249.18 Z" fill="#0050ff"/>
<path d="M352.31,232.09 L364.15,225.93 L355.05,225.22 L343.21,231.47 Z" fill="#0000bf"/>
<path d="M373.25,226.63 L385.09,220.56 L375.99,219.77 L364.15,225.93 Z" fill="#00008f"/>
<path d="M226.66,268.57 L238.50,261.88 L229.40,261.71 L217.56,268.50 Z" fill="#00efff"/>
<path d="M247.60,262.05 L259.44,255.44 L250.34,255.18 L238.50,261.88 Z" fill="#00bfff"/>
<path d="M310.42,243.53 L322.27,237.20 L313.17,236.67 L301.32,243.10 Z" fill="#0020ff"/>
<path d="M331.36,237.72 L343.21,231.47 L334.11,230.86 L322.27,237.20 Z" fill="#0000ef"/>
<path d="M193.87,282.07 L205.71,275.28 L196.62,275.29 L184.77,282.17 Z" fill="#20ffdf"/>
<path d="M235.75,268.65 L247.60,262.05 L238.50,261.88 L226.66,268.57 Z" fill="#00bfff"/>
<path d="M256.70,262.21 L268.54,255.70 L259.44,255.44 L247.60,262.05 Z" fill="#008fff"/>
<path d="M277.64,255.95 L289.48,249.52 L280.38,249.18 L268.54,255.70 Z" fill="#0050ff"/>
<path d="M298.58,249.87 L310.42,243.53 L301.32,243.10 L289.48,249.52 Z" fill="#0020ff"/>
<path d="M319.52,243.97 L331.36,237.72 L322.27,237.20 L310.42,243.53 Z" fill="#0000ef"/>
<path d="M361.40,232.70 L373.25,226.63 L364.15,225.93 L352.31,232.09 Z" fill="#00008f"/>
<path d="M214.81,275.27 L226.66,268.57 L217.56,268.50 L205.71,275.28 Z" fill="#00efff"/>
<path d="M340.46,238.24 L352.31,232.09 L343.21,231.47 L331.36,237.72 Z" fill="#0000bf"/>
<path d="M202.97,281.96 L214.81,275.27 L205.71,275.28 L193.87,282.07 Z" fill="#00efff"/>
<path d="M223.91,275.26 L235.75,268.65 L226.66,268.57 L214.81,275.27 Z" fill="#00bfff"/>
<path d="M244.85,268.73 L256.70,262.21 L247.60,262.05 L235.75,268.65 Z" fill="#008fff"/>
<path d="M265.79,262.38 L277.64,255.95 L268.54,255.70 L256.70,262.21 Z" fill="#0050ff"/>
<path d="M286.74,256.21 L298.58,249.87 L289.48,249.52 L277.64,255.95 Z" fill="#0020ff"/>
<path d="M307.68,250.22 L319.52,243.97 L310.42,243.53 L298.58,249.87 Z" fill="#0000ef"/>
<path d="M328.62,244.40 L340.46,238.24 L331.36,237.72 L319.52,243.97 Z" fill="#0000bf"/>
<path d="M349.56,238.77 L361.40,232.70 L352.31,232.09 L340.46,238.24 Z" fill="#00008f"/>
<path d="M253.95,268.81 L265.79,262.38 L256.70,262.21 L244.85,268.73 Z" fill="#0050ff"/>
<path d="M295.83,256.46 L307.68,250.22 L298.58,249.87 L286.74,256.21 Z" fill="#0000ef"/>
<path d="M212.07,281.86 L223.91,275.26 L214.81,275.27 L202.97,281.96 Z" fill="#00bfff"/>
<path d="M233.01,275.25 L244.85,268.73 L235.75,268.65 L223.91,275.26 Z" fill="#008fff"/>
<path d="M274.89,262.55 L286.74,256.21 L277.64,255.95 L265.79,262.38 Z" fill="#0020ff"/>
<path d="M316.78,250.56 L328.62,244.40 L319.52,243.97 L307.68,250.22 Z" fill="#0000bf"/>
<path d="M337.72,244.84 L349.56,238.77 L340.46,238.24 L328.62,244.40 Z" fill="#00008f"/>
<path d="M221.17,281.76 L233.01,275.25 L223.91,275.26 L212.07,281.86 Z" fill="#008fff"/>
<path d="M242.11,275.23 L253.95,268.81 L244.85,268.73 L233.01,275.25 Z" fill="#0050ff"/>
<path d="M263.05,268.88 L274.89,262.55 L265.79,262.38 L253.95,268.81 Z" fill="#0020ff"/>
<path d="M283.99,262.71 L295.83,256.46 L286.74,256.21 L274.89,262.55 Z" fill="#0000ef"/>
<path d="M304.93,256.72 L316.78,250.56 L307.68,250.22 L295.83,256.46 Z" fill="#0000bf"/>
<path d="M325.87,250.91 L337.72,244.84 L328.62,244.40 L316.78,250.56 Z" fill="#00008f"/>
<path d="M230.27,281.66 L242.11,275.23 L233.01,275.25 L221.17,281.76 Z" fill="#0050ff"/>
<path d="M251.21,275.22 L263.05,268.88 L253.95,268.81 L242.11,275.23 Z" fill="#0020ff"/>
<path d="M272.15,268.96 L283.99,262.71 L274.89,262.55 L263.05,268.88 Z" fill="#0000ef"/>
<path d="M293.09,262.88 L304.93,256.72 L295.83,256.46 L283.99,262.71 Z" fill="#0000bf"/>
<path d="M314.03,256.98 L325.87,250.91 L316.78,250.56 L304.93,256.72 Z" fill="#00008f"/>
<path d="M260.31,275.21 L272.15,268.96 L263.05,268.88 L251.21,275.22 Z" fill="#0000ef"/>
<path d="M281.25,269.04 L293.09,262.88 L283.99,262.71 L272.15,268.96 Z" fill="#0000bf"/>
<path d="M239.36,281.56 L251.21,275.22 L242.11,275.23 L230.27,281.66 Z" fill="#0020ff"/>
<path d="M302.19,263.05 L314.03,256.98 L304.93,256.72 L293.09,262.88 Z" fill="#00008f"/>
<path d="M248.46,281.46 L260.31,275.21 L251.21,275.22 L239.36,281.56 Z" fill="#0000ef"/>
<path d="M269.40,275.20 L281.25,269.04 L272.15,268.96 L260.31,275.21 Z" fill="#0000bf"/>
<path d="M290.35,269.12 L302.19,263.05 L293.09,262.88 L281.25,269.04 Z" fill="#00008f"/>
<path d="M257.56,281.36 L269.40,275.20 L260.31,275.21 L248.46,281.46 Z" fill="#0000bf"/>
<path d="M278.50,275.19 L290.35,269.12 L281.25,269.04 L269.40,275.20 Z" fill="#00008f"/>
<path d="M266.66,281.26 L278.50,275.19 L269.40,275.20 L257.56,281.36 Z" fill="#00008f"/>
</g>
<path d="M83.99,297.49 L83.99,106.67 M83.99,297.49 L265.96,384.91 M265.96,384.91 L502.82,317.19 M83.99,249.79 L80.06,246.70 M83.99,202.08 L80.06,198.99 M83.99,154.38 L80.06,151.29 M83.99,106.67 L80.06,103.58 M265.96,384.91 L261.41,386.99 M174.97,341.20 L170.43,343.28 M83.99,297.49 L79.44,299.57 M265.96,384.91 L270.59,387.88 M384.39,351.05 L389.02,354.02 M502.82,317.19 L507.45,320.16" stroke="#000" stroke-width="1.8" fill="none" stroke-linecap="square"/>
<g font-family="Liberation Sans, Arial, sans-serif" fill="#000" stroke="#000" stroke-width="0.3">
<text x="167.64" y="23.80" font-size="19" textLength="249.40" lengthAdjust="spacingAndGlyphs">Plot of 2D stress dependence</text>
<text x="46.09" y="108.47" font-size="19">-20</text>
<text x="46.09" y="156.18" font-size="19">-40</text>
<text x="46.09" y="203.88" font-size="19">-60</text>
<text x="46.09" y="251.59" font-size="19">-80</text>
<text x="35.52" y="299.29" font-size="19">-100</text>
<text x="41.64" y="316.30" font-size="19" textLength="31.61" lengthAdjust="spacingAndGlyphs">500</text>
<text x="132.67" y="362.00" font-size="19" textLength="31.17" lengthAdjust="spacingAndGlyphs">400</text>
<text x="224.68" y="404.50" font-size="19" textLength="31.46" lengthAdjust="spacingAndGlyphs">300</text>
<text x="274.68" y="406.40" font-size="19" textLength="32.11" lengthAdjust="spacingAndGlyphs">-2.5</text>
<text x="394.09" y="373.70" font-size="19" textLength="16.44" lengthAdjust="spacingAndGlyphs">-2</text>
<text x="513.06" y="339.70" font-size="19" textLength="32.74" lengthAdjust="spacingAndGlyphs">-1.5</text>
<text x="492.37" y="387.10" font-size="19" textLength="35.77" lengthAdjust="spacingAndGlyphs">x 10</text>
<text x="527.68" y="375.50" font-size="13" textLength="10.43" lengthAdjust="spacingAndGlyphs">-6</text>
<text x="373.94" y="421.30" font-size="19" textLength="149.59" lengthAdjust="spacingAndGlyphs">CTE difference (K</text>
<text x="525.29" y="412.70" font-size="15" textLength="10.28" lengthAdjust="spacingAndGlyphs">-1</text>
<text x="538.39" y="421.30" font-size="19">)</text>
<text x="29.79" y="412.40" font-size="19" textLength="141.76" lengthAdjust="spacingAndGlyphs">Temp change (K)</text>
<text transform="rotate(-90)" x="-294.83" y="24.60" font-size="19" textLength="188.15" lengthAdjust="spacingAndGlyphs">Thermal stress (MPa)</text>
<rect x="190.2" y="74.4" width="225.1" height="47.2" fill="none" stroke="#000" stroke-width="2"/>
<text x="195.88" y="101.00" font-size="19" textLength="56.51" lengthAdjust="spacingAndGlyphs">E*(SiO</text>
<text x="253.15" y="110.30" font-size="15" textLength="8.29" lengthAdjust="spacingAndGlyphs">2</text>
<text x="261.79" y="101.00" font-size="19" textLength="66.63" lengthAdjust="spacingAndGlyphs">)=75x10</text>
<text x="330.00" y="92.50" font-size="15" textLength="7.27" lengthAdjust="spacingAndGlyphs">3</text>
<text x="342.05" y="101.00" font-size="19" textLength="50.61" lengthAdjust="spacingAndGlyphs">(MPa)</text>
</g>
</svg>
</body></html>
